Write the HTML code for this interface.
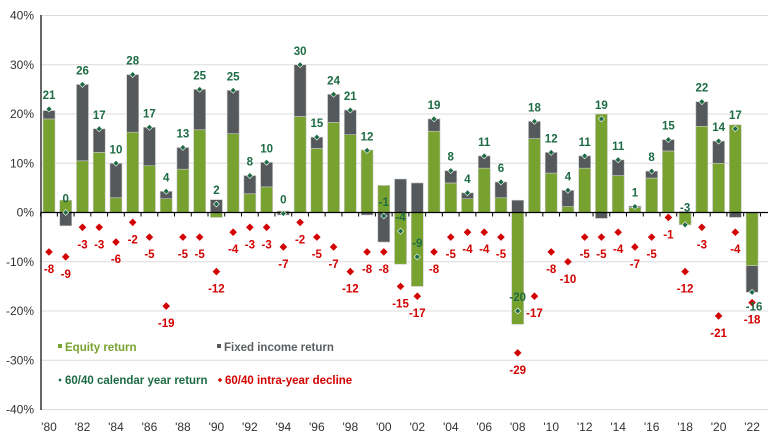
<!DOCTYPE html>
<html><head><meta charset="utf-8"><style>
html,body{margin:0;padding:0;background:#fff;}
svg{display:block;font-family:"Liberation Sans",Arial,sans-serif;}
</style></head><body>
<svg id="c" width="768" height="440" viewBox="0 0 768 440" xmlns="http://www.w3.org/2000/svg"></svg>
<script>
const S='http://www.w3.org/2000/svg',svg=document.getElementById('c');
function el(t,a,txt){const e=document.createElementNS(S,t);for(const k in a)e.setAttribute(k,a[k]);if(txt!==undefined)e.textContent=txt;svg.appendChild(e);return e;}
const Y0=212.5,K=4.925;const y=v=>Y0-v*K;const X=i=>49+i*16.74;
for(let v=-40;v<=40;v+=10){ if(v!==0) el('line',{x1:41,x2:768,y1:y(v),y2:y(v),stroke:'#dcdcdc','stroke-width':1});
 el('text',{x:34,y:y(v)+4,'text-anchor':'end','font-size':12,fill:'#333'},v+'%');}
const D=[[19,1.7,21,-8],[2.5,-2.7,0,-9],[10.5,15.5,26,-3],[12.2,4.8,17,-3],[3,7,10,-6],[16.3,11.7,28,-2],[9.5,7.8,17.3,-5],[2.8,1.5,4.3,-19],[8.8,4.4,13.2,-5],[16.8,8.2,25,-5],
[-1,2.6,1.7,-12],[16,8.8,24.8,-4],[3.8,3.7,7.5,-3],[5.2,5,10.2,-3],[0.3,-0.5,-0.2,-7],[19.5,10.5,30,-2],[13,2.3,15.3,-5],[18.3,5.7,24,-7],[15.8,5,20.8,-12],[12.7,-0.5,12.6,-8],
[5.5,-6,-0.7,-8],[-10.5,6.8,-3.8,-15],[-15,6,-9,-17],[16.5,2.5,19,-8],[6,2.5,8.5,-5],[2.8,1.2,4,-4],[9,2.5,11.5,-4],[3,3.2,6.2,-5],[-22.7,2.5,-20,-28.5],[15,3.5,18.5,-17],
[8,4.2,12.2,-8],[1.2,3.3,4.5,-10],[9,2.5,11.5,-5],[20,-1.2,19,-5],[7.5,3.2,10.7,-4],[1,0.3,1.2,-7],[7,1.4,8.4,-5],[12.5,2.3,14.8,-1],[-2.5,0.2,-2.5,-12],[17.5,5,22.5,-3],
[10,4.5,14.5,-21],[17.8,-1,17,-4],[-10.8,-5.4,-16.2,-18.3]];
const TL=[21,0,26,17,10,28,17,4,13,25,2,25,8,10,0,30,15,24,21,12,-1,-4,-9,19,8,4,11,6,-20,18,12,4,11,19,11,1,8,15,-3,22,14,17,-16];
const DL=[-8,-9,-3,-3,-6,-2,-5,-19,-5,-5,-12,-4,-3,-3,-7,-2,-5,-7,-12,-8,-8,-15,-17,-8,-5,-4,-4,-5,-29,-17,-8,-10,-5,-5,-4,-7,-5,-1,-12,-3,-21,-4,-18];
const G='#78a22f',GR='#55595c',DG='#1d6b44',R='#d20000';
const bw=12;
D.forEach((d,i)=>{const cx=X(i),[e,f]=d;
 function bar(a,b,c){const t=Math.min(y(a),y(b)),h=Math.abs(y(a)-y(b));if(h>0)el('rect',{x:cx-bw/2,y:t,width:bw,height:h,fill:c,stroke:'#c8c8c8','stroke-width':0.6});}
 if(e>=0&&f>=0){bar(0,e,G);bar(e,e+f,GR);}
 else if(e<0&&f<0){bar(0,e,G);bar(e,e+f,GR);}
 else{bar(0,e,G);bar(0,f,GR);}
});
el('line',{x1:41,x2:768,y1:Y0,y2:Y0,stroke:'#000','stroke-width':1.2});
for(let i=0;i<=43;i++)el('line',{x1:X(i)-8.4,x2:X(i)-8.4,y1:Y0,y2:Y0+4,stroke:'#000','stroke-width':1});
el('line',{x1:41,x2:41,y1:15,y2:410,stroke:'#000','stroke-width':1.2});
function dia(cx,cy,r,c){el('path',{d:`M${cx} ${cy-r}L${cx+r} ${cy}L${cx} ${cy+r}L${cx-r} ${cy}Z`,fill:c,stroke:c==DG?'#fff':'none','stroke-width':0.6});}
D.forEach((d,i)=>{const cx=X(i);
 dia(cx,y(d[3]),3.8,R);
 el('text',{x:cx,y:y(d[3])+21,'text-anchor':'middle','font-size':11.5,'font-weight':'bold',fill:R},DL[i]);
 dia(cx,y(d[2]),3,DG);
 let ly=y(Math.max(d[2],0))-10; if(d[2]<0) ly=y(d[2])-10;
 let lx=cx; if(i==42){lx=cx+2;ly=y(d[2])+18;}
 if(i==38)ly=y(0)-1;
 el('text',{x:lx,y:ly,'text-anchor':'middle','font-size':11.5,'font-weight':'bold',fill:DG},TL[i]);
});
for(let i=0;i<43;i+=2){const yr=(80+i)%100;el('text',{x:X(i),y:431,'text-anchor':'middle','font-size':12,fill:'#333'},"'"+String(yr).padStart(2,'0'));}
el('rect',{x:58,y:344,width:4,height:4,fill:G});el('text',{x:65,y:351,'font-size':11.5,'font-weight':'bold',fill:G},'Equity return');
el('rect',{x:217,y:344,width:4,height:4,fill:GR});el('text',{x:224,y:351,'font-size':11.5,'font-weight':'bold',fill:'#5a5e61'},'Fixed income return');
dia(60,380,2.2,DG);el('text',{x:65,y:384,'font-size':11.5,'font-weight':'bold',fill:DG},'60/40 calendar year return');
dia(220,380,2.2,R);el('text',{x:225,y:384,'font-size':11.5,'font-weight':'bold',fill:R},'60/40 intra-year decline');
</script>
</body></html>
